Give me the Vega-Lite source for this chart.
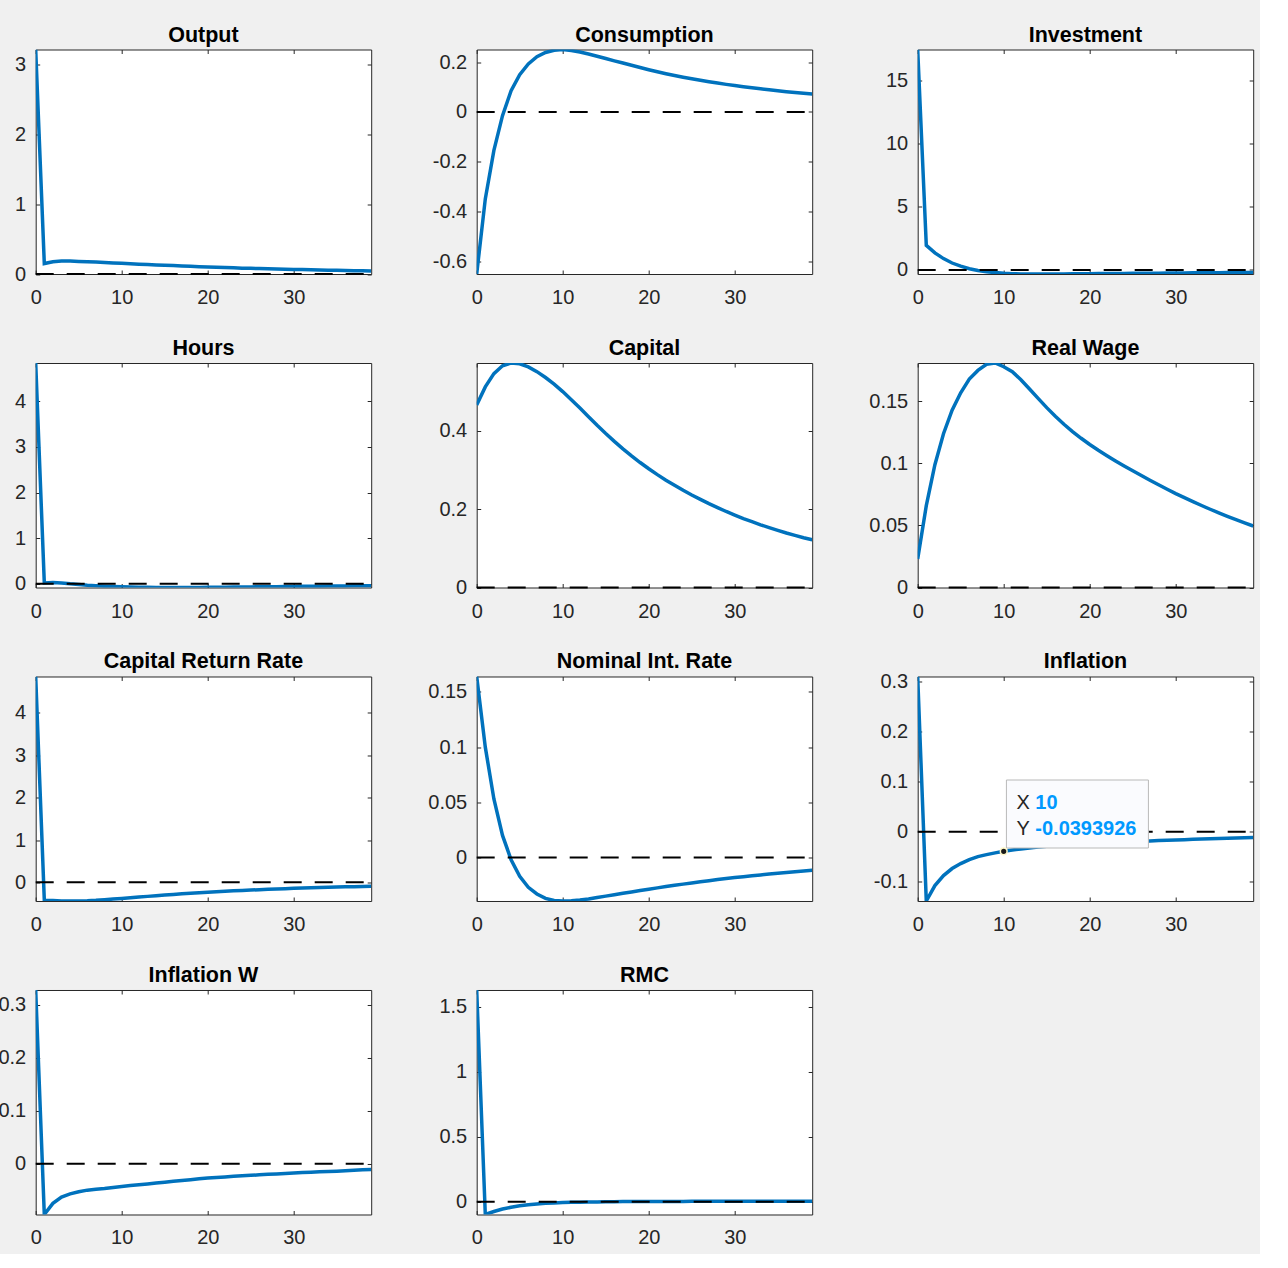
{
  "$schema": "https://vega.github.io/schema/vega-lite/v6.json",
  "background": "#f0f0f0",
  "padding": {"left": -3.3, "top": 23.5, "right": 5, "bottom": 5},
  "config": {
    "locale": {"number": {"decimal": ".", "thousands": ",", "grouping": [3], "currency": ["$", ""], "minus": "-"}},
    "font": "Liberation Sans",
    "view": {"fill": "white", "stroke": "#262626", "strokeWidth": 1},
    "axis": {"domain": false, "grid": false, "ticks": true, "tickColor": "#262626", "tickSize": -4, "tickWidth": 1, "labelFont": "Liberation Sans", "labelFontSize": 20, "labelColor": "#262626", "labelFlush": false, "labelOverlap": false, "format": ".4~g"},
    "axisBottom": {"labelPadding": 17.5},
    "axisLeft": {"labelPadding": 14},
    "title": {"font": "Liberation Sans", "fontSize": 21.5, "fontWeight": "bold", "color": "#000000", "offset": 3, "baseline": "bottom"}
  },
  "datasets": {
    "zero": [{"z": 0}],
    "output": [{"t":0,"y":3.21},{"t":1,"y":0.15},{"t":2,"y":0.175},{"t":3,"y":0.185},{"t":4,"y":0.185},{"t":5,"y":0.18},{"t":6,"y":0.175},{"t":7,"y":0.17},{"t":8,"y":0.164},{"t":9,"y":0.158},{"t":10,"y":0.152},{"t":11,"y":0.146},{"t":12,"y":0.14},{"t":13,"y":0.135},{"t":14,"y":0.13},{"t":15,"y":0.125},{"t":16,"y":0.12},{"t":17,"y":0.115},{"t":18,"y":0.11},{"t":19,"y":0.105},{"t":20,"y":0.1},{"t":21,"y":0.096},{"t":22,"y":0.092},{"t":23,"y":0.088},{"t":24,"y":0.084},{"t":25,"y":0.081},{"t":26,"y":0.078},{"t":27,"y":0.075},{"t":28,"y":0.072},{"t":29,"y":0.069},{"t":30,"y":0.066},{"t":31,"y":0.063},{"t":32,"y":0.06},{"t":33,"y":0.058},{"t":34,"y":0.055},{"t":35,"y":0.053},{"t":36,"y":0.05},{"t":37,"y":0.048},{"t":38,"y":0.046},{"t":39,"y":0.044}],
    "consumption": [{"t":0,"y":-0.652},{"t":1,"y":-0.35},{"t":2,"y":-0.155},{"t":3,"y":-0.015},{"t":4,"y":0.085},{"t":5,"y":0.15},{"t":6,"y":0.193},{"t":7,"y":0.222},{"t":8,"y":0.239},{"t":9,"y":0.248},{"t":10,"y":0.251},{"t":11,"y":0.247},{"t":12,"y":0.241},{"t":13,"y":0.233},{"t":14,"y":0.224},{"t":15,"y":0.215},{"t":16,"y":0.2055},{"t":17,"y":0.1965},{"t":18,"y":0.1875},{"t":19,"y":0.1785},{"t":20,"y":0.1697},{"t":21,"y":0.1615},{"t":22,"y":0.1538},{"t":23,"y":0.1465},{"t":24,"y":0.1396},{"t":25,"y":0.1331},{"t":26,"y":0.127},{"t":27,"y":0.1213},{"t":28,"y":0.1159},{"t":29,"y":0.1108},{"t":30,"y":0.106},{"t":31,"y":0.1014},{"t":32,"y":0.097},{"t":33,"y":0.0928},{"t":34,"y":0.0888},{"t":35,"y":0.085},{"t":36,"y":0.0814},{"t":37,"y":0.078},{"t":38,"y":0.0748},{"t":39,"y":0.0718}],
    "investment": [{"t":0,"y":17.46},{"t":1,"y":1.95},{"t":2,"y":1.35},{"t":3,"y":0.9},{"t":4,"y":0.55},{"t":5,"y":0.3},{"t":6,"y":0.1},{"t":7,"y":-0.04},{"t":8,"y":-0.14},{"t":9,"y":-0.21},{"t":10,"y":-0.26},{"t":11,"y":-0.29},{"t":12,"y":-0.31},{"t":13,"y":-0.32},{"t":14,"y":-0.32},{"t":15,"y":-0.318},{"t":16,"y":-0.315},{"t":17,"y":-0.31},{"t":18,"y":-0.305},{"t":19,"y":-0.3},{"t":20,"y":-0.295},{"t":21,"y":-0.29},{"t":22,"y":-0.285},{"t":23,"y":-0.28},{"t":24,"y":-0.275},{"t":25,"y":-0.27},{"t":26,"y":-0.265},{"t":27,"y":-0.26},{"t":28,"y":-0.254},{"t":29,"y":-0.248},{"t":30,"y":-0.242},{"t":31,"y":-0.236},{"t":32,"y":-0.23},{"t":33,"y":-0.225},{"t":34,"y":-0.22},{"t":35,"y":-0.215},{"t":36,"y":-0.21},{"t":37,"y":-0.205},{"t":38,"y":-0.2},{"t":39,"y":-0.195}],
    "hours": [{"t":0,"y":4.84},{"t":1,"y":0.02},{"t":2,"y":0.03},{"t":3,"y":0.02},{"t":4,"y":0},{"t":5,"y":-0.015},{"t":6,"y":-0.03},{"t":7,"y":-0.04},{"t":8,"y":-0.05},{"t":9,"y":-0.058},{"t":10,"y":-0.064},{"t":11,"y":-0.069},{"t":12,"y":-0.073},{"t":13,"y":-0.076},{"t":14,"y":-0.078},{"t":15,"y":-0.079},{"t":16,"y":-0.08},{"t":17,"y":-0.08},{"t":18,"y":-0.079},{"t":19,"y":-0.078},{"t":20,"y":-0.077},{"t":21,"y":-0.075},{"t":22,"y":-0.073},{"t":23,"y":-0.071},{"t":24,"y":-0.069},{"t":25,"y":-0.067},{"t":26,"y":-0.065},{"t":27,"y":-0.063},{"t":28,"y":-0.061},{"t":29,"y":-0.059},{"t":30,"y":-0.057},{"t":31,"y":-0.055},{"t":32,"y":-0.053},{"t":33,"y":-0.051},{"t":34,"y":-0.049},{"t":35,"y":-0.047},{"t":36,"y":-0.045},{"t":37,"y":-0.043},{"t":38,"y":-0.041},{"t":39,"y":-0.04}],
    "capital": [{"t":0,"y":0.466},{"t":1,"y":0.512},{"t":2,"y":0.546},{"t":3,"y":0.566},{"t":4,"y":0.573},{"t":5,"y":0.571},{"t":6,"y":0.563},{"t":7,"y":0.551},{"t":8,"y":0.536},{"t":9,"y":0.519},{"t":10,"y":0.5},{"t":11,"y":0.479},{"t":12,"y":0.458},{"t":13,"y":0.436},{"t":14,"y":0.414},{"t":15,"y":0.393},{"t":16,"y":0.373},{"t":17,"y":0.354},{"t":18,"y":0.336},{"t":19,"y":0.319},{"t":20,"y":0.303},{"t":21,"y":0.288},{"t":22,"y":0.274},{"t":23,"y":0.261},{"t":24,"y":0.248},{"t":25,"y":0.236},{"t":26,"y":0.225},{"t":27,"y":0.214},{"t":28,"y":0.204},{"t":29,"y":0.194},{"t":30,"y":0.185},{"t":31,"y":0.176},{"t":32,"y":0.168},{"t":33,"y":0.16},{"t":34,"y":0.153},{"t":35,"y":0.146},{"t":36,"y":0.139},{"t":37,"y":0.133},{"t":38,"y":0.127},{"t":39,"y":0.122}],
    "realwage": [{"t":0,"y":0.023},{"t":1,"y":0.066},{"t":2,"y":0.099},{"t":3,"y":0.124},{"t":4,"y":0.143},{"t":5,"y":0.157},{"t":6,"y":0.168},{"t":7,"y":0.175},{"t":8,"y":0.18},{"t":9,"y":0.181},{"t":10,"y":0.178},{"t":11,"y":0.174},{"t":12,"y":0.1675},{"t":13,"y":0.16},{"t":14,"y":0.1525},{"t":15,"y":0.145},{"t":16,"y":0.138},{"t":17,"y":0.1316},{"t":18,"y":0.1257},{"t":19,"y":0.1203},{"t":20,"y":0.1153},{"t":21,"y":0.1106},{"t":22,"y":0.1062},{"t":23,"y":0.102},{"t":24,"y":0.098},{"t":25,"y":0.0942},{"t":26,"y":0.0903},{"t":27,"y":0.0865},{"t":28,"y":0.0828},{"t":29,"y":0.0792},{"t":30,"y":0.0757},{"t":31,"y":0.0724},{"t":32,"y":0.0692},{"t":33,"y":0.0661},{"t":34,"y":0.0631},{"t":35,"y":0.0602},{"t":36,"y":0.0574},{"t":37,"y":0.0547},{"t":38,"y":0.0521},{"t":39,"y":0.0496}],
    "capreturn": [{"t":0,"y":4.86},{"t":1,"y":-0.42},{"t":2,"y":-0.43},{"t":3,"y":-0.44},{"t":4,"y":-0.44},{"t":5,"y":-0.44},{"t":6,"y":-0.435},{"t":7,"y":-0.425},{"t":8,"y":-0.41},{"t":9,"y":-0.395},{"t":10,"y":-0.38},{"t":11,"y":-0.363},{"t":12,"y":-0.347},{"t":13,"y":-0.331},{"t":14,"y":-0.315},{"t":15,"y":-0.3},{"t":16,"y":-0.285},{"t":17,"y":-0.271},{"t":18,"y":-0.257},{"t":19,"y":-0.244},{"t":20,"y":-0.232},{"t":21,"y":-0.221},{"t":22,"y":-0.21},{"t":23,"y":-0.2},{"t":24,"y":-0.19},{"t":25,"y":-0.181},{"t":26,"y":-0.172},{"t":27,"y":-0.164},{"t":28,"y":-0.156},{"t":29,"y":-0.148},{"t":30,"y":-0.141},{"t":31,"y":-0.134},{"t":32,"y":-0.128},{"t":33,"y":-0.122},{"t":34,"y":-0.116},{"t":35,"y":-0.111},{"t":36,"y":-0.106},{"t":37,"y":-0.101},{"t":38,"y":-0.096},{"t":39,"y":-0.092}],
    "nominal": [{"t":0,"y":0.164},{"t":1,"y":0.1},{"t":2,"y":0.053},{"t":3,"y":0.02},{"t":4,"y":-0.002},{"t":5,"y":-0.017},{"t":6,"y":-0.027},{"t":7,"y":-0.033},{"t":8,"y":-0.037},{"t":9,"y":-0.039},{"t":10,"y":-0.0394},{"t":11,"y":-0.0392},{"t":12,"y":-0.0385},{"t":13,"y":-0.0375},{"t":14,"y":-0.0362},{"t":15,"y":-0.035},{"t":16,"y":-0.0337},{"t":17,"y":-0.0324},{"t":18,"y":-0.0312},{"t":19,"y":-0.0299},{"t":20,"y":-0.0287},{"t":21,"y":-0.0275},{"t":22,"y":-0.0263},{"t":23,"y":-0.0252},{"t":24,"y":-0.0241},{"t":25,"y":-0.023},{"t":26,"y":-0.022},{"t":27,"y":-0.021},{"t":28,"y":-0.02},{"t":29,"y":-0.0191},{"t":30,"y":-0.0182},{"t":31,"y":-0.0174},{"t":32,"y":-0.0166},{"t":33,"y":-0.0158},{"t":34,"y":-0.015},{"t":35,"y":-0.0143},{"t":36,"y":-0.0136},{"t":37,"y":-0.0129},{"t":38,"y":-0.0122},{"t":39,"y":-0.0116}],
    "inflation": [{"t":0,"y":0.311},{"t":1,"y":-0.139},{"t":2,"y":-0.108},{"t":3,"y":-0.088},{"t":4,"y":-0.074},{"t":5,"y":-0.064},{"t":6,"y":-0.056},{"t":7,"y":-0.05},{"t":8,"y":-0.046},{"t":9,"y":-0.0425},{"t":10,"y":-0.0394},{"t":11,"y":-0.0368},{"t":12,"y":-0.0346},{"t":13,"y":-0.0327},{"t":14,"y":-0.031},{"t":15,"y":-0.0295},{"t":16,"y":-0.0282},{"t":17,"y":-0.027},{"t":18,"y":-0.0259},{"t":19,"y":-0.0249},{"t":20,"y":-0.024},{"t":21,"y":-0.0231},{"t":22,"y":-0.0222},{"t":23,"y":-0.0214},{"t":24,"y":-0.0206},{"t":25,"y":-0.0199},{"t":26,"y":-0.0192},{"t":27,"y":-0.0185},{"t":28,"y":-0.0178},{"t":29,"y":-0.0172},{"t":30,"y":-0.0166},{"t":31,"y":-0.016},{"t":32,"y":-0.0154},{"t":33,"y":-0.0149},{"t":34,"y":-0.0143},{"t":35,"y":-0.0138},{"t":36,"y":-0.0133},{"t":37,"y":-0.0128},{"t":38,"y":-0.0123},{"t":39,"y":-0.0118}],
    "inflation_tip": [{"t":10,"y":-0.0393926}],
    "inflationw": [{"t":0,"y":0.328},{"t":1,"y":-0.096},{"t":2,"y":-0.075},{"t":3,"y":-0.063},{"t":4,"y":-0.057},{"t":5,"y":-0.053},{"t":6,"y":-0.05},{"t":7,"y":-0.0485},{"t":8,"y":-0.047},{"t":9,"y":-0.045},{"t":10,"y":-0.043},{"t":11,"y":-0.0414},{"t":12,"y":-0.0398},{"t":13,"y":-0.0382},{"t":14,"y":-0.0366},{"t":15,"y":-0.035},{"t":16,"y":-0.0334},{"t":17,"y":-0.0318},{"t":18,"y":-0.0302},{"t":19,"y":-0.0286},{"t":20,"y":-0.027},{"t":21,"y":-0.026},{"t":22,"y":-0.025},{"t":23,"y":-0.024},{"t":24,"y":-0.023},{"t":25,"y":-0.022},{"t":26,"y":-0.0211},{"t":27,"y":-0.0202},{"t":28,"y":-0.0193},{"t":29,"y":-0.0184},{"t":30,"y":-0.0176},{"t":31,"y":-0.0169},{"t":32,"y":-0.0162},{"t":33,"y":-0.0155},{"t":34,"y":-0.0148},{"t":35,"y":-0.0141},{"t":36,"y":-0.0133},{"t":37,"y":-0.0125},{"t":38,"y":-0.0117},{"t":39,"y":-0.011}],
    "rmc": [{"t":0,"y":1.628},{"t":1,"y":-0.098},{"t":2,"y":-0.075},{"t":3,"y":-0.056},{"t":4,"y":-0.042},{"t":5,"y":-0.031},{"t":6,"y":-0.023},{"t":7,"y":-0.017},{"t":8,"y":-0.012},{"t":9,"y":-0.009},{"t":10,"y":-0.006},{"t":11,"y":-0.004},{"t":12,"y":-0.003},{"t":13,"y":-0.002},{"t":14,"y":-0.001},{"t":15,"y":0},{"t":16,"y":0.0005},{"t":17,"y":0.001},{"t":18,"y":0.0015},{"t":19,"y":0.002},{"t":20,"y":0.002},{"t":21,"y":0.0023},{"t":22,"y":0.0025},{"t":23,"y":0.0027},{"t":24,"y":0.0028},{"t":25,"y":0.003},{"t":26,"y":0.003},{"t":27,"y":0.0031},{"t":28,"y":0.0032},{"t":29,"y":0.0032},{"t":30,"y":0.0033},{"t":31,"y":0.0033},{"t":32,"y":0.0034},{"t":33,"y":0.0034},{"t":34,"y":0.0034},{"t":35,"y":0.0035},{"t":36,"y":0.0035},{"t":37,"y":0.0035},{"t":38,"y":0.0035},{"t":39,"y":0.0035}]
  },
  "columns": 3,
  "bounds": "flush",
  "spacing": {"row": 88.5, "column": 105},
  "concat": [
    {"title": "Output", "width": 335.5, "height": 224.5,
     "layer": [
      {"data": {"name": "output"}, "mark": {"type": "line", "color": "#0072BD", "strokeWidth": 3.5, "clip": true},
       "encoding": {"x": {"field": "t", "type": "quantitative", "scale": {"domain": [0, 39], "nice": false}, "axis": {"orient": "bottom", "values": [0, 10, 20, 30], "title": null}},
                    "y": {"field": "y", "type": "quantitative", "scale": {"domain": [0, 3.21], "nice": false}, "axis": {"orient": "left", "values": [0, 1, 2, 3], "title": null}}}},
      {"data": {"name": "zero"}, "mark": {"type": "rule", "color": "#000000", "strokeWidth": 2, "strokeDash": [18, 13]},
       "encoding": {"x": {"datum": 0, "type": "quantitative", "scale": {"domain": [0, 39], "nice": false}, "axis": {"orient": "top", "values": [0, 10, 20, 30], "labels": false, "title": null}}, "x2": {"datum": 39},
                    "y": {"field": "z", "type": "quantitative", "scale": {"domain": [0, 3.21], "nice": false}, "axis": {"orient": "right", "values": [0, 1, 2, 3], "labels": false, "title": null}}}}
     ],
     "resolve": {"axis": {"x": "independent", "y": "independent"}}},
    {"title": "Consumption", "width": 335.5, "height": 224.5,
     "layer": [
      {"data": {"name": "consumption"}, "mark": {"type": "line", "color": "#0072BD", "strokeWidth": 3.5, "clip": true},
       "encoding": {"x": {"field": "t", "type": "quantitative", "scale": {"domain": [0, 39], "nice": false}, "axis": {"orient": "bottom", "values": [0, 10, 20, 30], "title": null}},
                    "y": {"field": "y", "type": "quantitative", "scale": {"domain": [-0.652, 0.251], "nice": false}, "axis": {"orient": "left", "values": [-0.6, -0.4, -0.2, 0, 0.2], "title": null}}}},
      {"data": {"name": "zero"}, "mark": {"type": "rule", "color": "#000000", "strokeWidth": 2, "strokeDash": [18, 13]},
       "encoding": {"x": {"datum": 0, "type": "quantitative", "scale": {"domain": [0, 39], "nice": false}, "axis": {"orient": "top", "values": [0, 10, 20, 30], "labels": false, "title": null}}, "x2": {"datum": 39},
                    "y": {"field": "z", "type": "quantitative", "scale": {"domain": [-0.652, 0.251], "nice": false}, "axis": {"orient": "right", "values": [-0.6, -0.4, -0.2, 0, 0.2], "labels": false, "title": null}}}}
     ],
     "resolve": {"axis": {"x": "independent", "y": "independent"}}},
    {"title": "Investment", "width": 335.5, "height": 224.5,
     "layer": [
      {"data": {"name": "investment"}, "mark": {"type": "line", "color": "#0072BD", "strokeWidth": 3.5, "clip": true},
       "encoding": {"x": {"field": "t", "type": "quantitative", "scale": {"domain": [0, 39], "nice": false}, "axis": {"orient": "bottom", "values": [0, 10, 20, 30], "title": null}},
                    "y": {"field": "y", "type": "quantitative", "scale": {"domain": [-0.32, 17.46], "nice": false}, "axis": {"orient": "left", "values": [0, 5, 10, 15], "title": null}}}},
      {"data": {"name": "zero"}, "mark": {"type": "rule", "color": "#000000", "strokeWidth": 2, "strokeDash": [18, 13]},
       "encoding": {"x": {"datum": 0, "type": "quantitative", "scale": {"domain": [0, 39], "nice": false}, "axis": {"orient": "top", "values": [0, 10, 20, 30], "labels": false, "title": null}}, "x2": {"datum": 39},
                    "y": {"field": "z", "type": "quantitative", "scale": {"domain": [-0.32, 17.46], "nice": false}, "axis": {"orient": "right", "values": [0, 5, 10, 15], "labels": false, "title": null}}}}
     ],
     "resolve": {"axis": {"x": "independent", "y": "independent"}}},
    {"title": "Hours", "width": 335.5, "height": 224.5,
     "layer": [
      {"data": {"name": "hours"}, "mark": {"type": "line", "color": "#0072BD", "strokeWidth": 3.5, "clip": true},
       "encoding": {"x": {"field": "t", "type": "quantitative", "scale": {"domain": [0, 39], "nice": false}, "axis": {"orient": "bottom", "values": [0, 10, 20, 30], "title": null}},
                    "y": {"field": "y", "type": "quantitative", "scale": {"domain": [-0.08, 4.84], "nice": false}, "axis": {"orient": "left", "values": [0, 1, 2, 3, 4], "title": null}}}},
      {"data": {"name": "zero"}, "mark": {"type": "rule", "color": "#000000", "strokeWidth": 2, "strokeDash": [18, 13]},
       "encoding": {"x": {"datum": 0, "type": "quantitative", "scale": {"domain": [0, 39], "nice": false}, "axis": {"orient": "top", "values": [0, 10, 20, 30], "labels": false, "title": null}}, "x2": {"datum": 39},
                    "y": {"field": "z", "type": "quantitative", "scale": {"domain": [-0.08, 4.84], "nice": false}, "axis": {"orient": "right", "values": [0, 1, 2, 3, 4], "labels": false, "title": null}}}}
     ],
     "resolve": {"axis": {"x": "independent", "y": "independent"}}},
    {"title": "Capital", "width": 335.5, "height": 224.5,
     "layer": [
      {"data": {"name": "capital"}, "mark": {"type": "line", "color": "#0072BD", "strokeWidth": 3.5, "clip": true},
       "encoding": {"x": {"field": "t", "type": "quantitative", "scale": {"domain": [0, 39], "nice": false}, "axis": {"orient": "bottom", "values": [0, 10, 20, 30], "title": null}},
                    "y": {"field": "y", "type": "quantitative", "scale": {"domain": [0, 0.573], "nice": false}, "axis": {"orient": "left", "values": [0, 0.2, 0.4], "title": null}}}},
      {"data": {"name": "zero"}, "mark": {"type": "rule", "color": "#000000", "strokeWidth": 2, "strokeDash": [18, 13]},
       "encoding": {"x": {"datum": 0, "type": "quantitative", "scale": {"domain": [0, 39], "nice": false}, "axis": {"orient": "top", "values": [0, 10, 20, 30], "labels": false, "title": null}}, "x2": {"datum": 39},
                    "y": {"field": "z", "type": "quantitative", "scale": {"domain": [0, 0.573], "nice": false}, "axis": {"orient": "right", "values": [0, 0.2, 0.4], "labels": false, "title": null}}}}
     ],
     "resolve": {"axis": {"x": "independent", "y": "independent"}}},
    {"title": "Real Wage", "width": 335.5, "height": 224.5,
     "layer": [
      {"data": {"name": "realwage"}, "mark": {"type": "line", "color": "#0072BD", "strokeWidth": 3.5, "clip": true},
       "encoding": {"x": {"field": "t", "type": "quantitative", "scale": {"domain": [0, 39], "nice": false}, "axis": {"orient": "bottom", "values": [0, 10, 20, 30], "title": null}},
                    "y": {"field": "y", "type": "quantitative", "scale": {"domain": [0, 0.181], "nice": false}, "axis": {"orient": "left", "values": [0, 0.05, 0.1, 0.15], "title": null}}}},
      {"data": {"name": "zero"}, "mark": {"type": "rule", "color": "#000000", "strokeWidth": 2, "strokeDash": [18, 13]},
       "encoding": {"x": {"datum": 0, "type": "quantitative", "scale": {"domain": [0, 39], "nice": false}, "axis": {"orient": "top", "values": [0, 10, 20, 30], "labels": false, "title": null}}, "x2": {"datum": 39},
                    "y": {"field": "z", "type": "quantitative", "scale": {"domain": [0, 0.181], "nice": false}, "axis": {"orient": "right", "values": [0, 0.05, 0.1, 0.15], "labels": false, "title": null}}}}
     ],
     "resolve": {"axis": {"x": "independent", "y": "independent"}}},
    {"title": "Capital Return Rate", "width": 335.5, "height": 224.5,
     "layer": [
      {"data": {"name": "capreturn"}, "mark": {"type": "line", "color": "#0072BD", "strokeWidth": 3.5, "clip": true},
       "encoding": {"x": {"field": "t", "type": "quantitative", "scale": {"domain": [0, 39], "nice": false}, "axis": {"orient": "bottom", "values": [0, 10, 20, 30], "title": null}},
                    "y": {"field": "y", "type": "quantitative", "scale": {"domain": [-0.44, 4.86], "nice": false}, "axis": {"orient": "left", "values": [0, 1, 2, 3, 4], "title": null}}}},
      {"data": {"name": "zero"}, "mark": {"type": "rule", "color": "#000000", "strokeWidth": 2, "strokeDash": [18, 13]},
       "encoding": {"x": {"datum": 0, "type": "quantitative", "scale": {"domain": [0, 39], "nice": false}, "axis": {"orient": "top", "values": [0, 10, 20, 30], "labels": false, "title": null}}, "x2": {"datum": 39},
                    "y": {"field": "z", "type": "quantitative", "scale": {"domain": [-0.44, 4.86], "nice": false}, "axis": {"orient": "right", "values": [0, 1, 2, 3, 4], "labels": false, "title": null}}}}
     ],
     "resolve": {"axis": {"x": "independent", "y": "independent"}}},
    {"title": "Nominal Int. Rate", "width": 335.5, "height": 224.5,
     "layer": [
      {"data": {"name": "nominal"}, "mark": {"type": "line", "color": "#0072BD", "strokeWidth": 3.5, "clip": true},
       "encoding": {"x": {"field": "t", "type": "quantitative", "scale": {"domain": [0, 39], "nice": false}, "axis": {"orient": "bottom", "values": [0, 10, 20, 30], "title": null}},
                    "y": {"field": "y", "type": "quantitative", "scale": {"domain": [-0.0394, 0.164], "nice": false}, "axis": {"orient": "left", "values": [0, 0.05, 0.1, 0.15], "title": null}}}},
      {"data": {"name": "zero"}, "mark": {"type": "rule", "color": "#000000", "strokeWidth": 2, "strokeDash": [18, 13]},
       "encoding": {"x": {"datum": 0, "type": "quantitative", "scale": {"domain": [0, 39], "nice": false}, "axis": {"orient": "top", "values": [0, 10, 20, 30], "labels": false, "title": null}}, "x2": {"datum": 39},
                    "y": {"field": "z", "type": "quantitative", "scale": {"domain": [-0.0394, 0.164], "nice": false}, "axis": {"orient": "right", "values": [0, 0.05, 0.1, 0.15], "labels": false, "title": null}}}}
     ],
     "resolve": {"axis": {"x": "independent", "y": "independent"}}},
    {"title": {"text": "Inflation", "offset": -1}, "width": 335.5, "height": 224.5,
     "layer": [
      {"data": {"name": "inflation"}, "mark": {"type": "line", "color": "#0072BD", "strokeWidth": 3.5, "clip": true},
       "encoding": {"x": {"field": "t", "type": "quantitative", "scale": {"domain": [0, 39], "nice": false}, "axis": {"orient": "bottom", "values": [0, 10, 20, 30], "title": null}},
                    "y": {"field": "y", "type": "quantitative", "scale": {"domain": [-0.139, 0.311], "nice": false}, "axis": {"orient": "left", "values": [-0.1, 0, 0.1, 0.2, 0.3], "title": null}}}},
      {"data": {"name": "zero"}, "mark": {"type": "rule", "color": "#000000", "strokeWidth": 2, "strokeDash": [18, 13]},
       "encoding": {"x": {"datum": 0, "type": "quantitative", "scale": {"domain": [0, 39], "nice": false}, "axis": {"orient": "top", "values": [0, 10, 20, 30], "labels": false, "title": null}}, "x2": {"datum": 39},
                    "y": {"field": "z", "type": "quantitative", "scale": {"domain": [-0.139, 0.311], "nice": false}, "axis": {"orient": "right", "values": [-0.1, 0, 0.1, 0.2, 0.3], "labels": false, "title": null}}}},
      {"data": {"name": "inflation_tip"}, "mark": {"type": "point", "shape": "M0.054,-1.426H2.894V-0.066H0.054Z", "size": 10000, "filled": true, "fill": "#fafbfe", "stroke": "#b9b9b9", "strokeWidth": 1, "opacity": 1},
       "encoding": {"x": {"field": "t", "type": "quantitative", "axis": null}, "y": {"field": "y", "type": "quantitative", "axis": null}}},
      {"data": {"name": "inflation_tip"}, "mark": {"type": "point", "shape": "circle", "size": 45, "filled": true, "fill": "#1a1a1a", "stroke": "#fff8c8", "strokeWidth": 1.5, "opacity": 1},
       "encoding": {"x": {"field": "t", "type": "quantitative", "axis": null}, "y": {"field": "y", "type": "quantitative", "axis": null}}},
      {"data": {"name": "inflation_tip"}, "mark": {"type": "text", "text": "X", "align": "left", "baseline": "middle", "dx": 12.7, "dy": -48.1, "fontSize": 20, "color": "#262626"},
       "encoding": {"x": {"field": "t", "type": "quantitative", "axis": null}, "y": {"field": "y", "type": "quantitative", "axis": null}}},
      {"data": {"name": "inflation_tip"}, "mark": {"type": "text", "align": "left", "baseline": "middle", "dx": 31.6, "dy": -48.1, "fontSize": 20, "fontWeight": "bold", "color": "#0099ff"},
       "encoding": {"x": {"field": "t", "type": "quantitative", "axis": null}, "y": {"field": "y", "type": "quantitative", "axis": null}, "text": {"field": "t", "type": "quantitative", "format": "d"}}},
      {"data": {"name": "inflation_tip"}, "mark": {"type": "text", "text": "Y", "align": "left", "baseline": "middle", "dx": 12.7, "dy": -22.6, "fontSize": 20, "color": "#262626"},
       "encoding": {"x": {"field": "t", "type": "quantitative", "axis": null}, "y": {"field": "y", "type": "quantitative", "axis": null}}},
      {"data": {"name": "inflation_tip"}, "mark": {"type": "text", "align": "left", "baseline": "middle", "dx": 31.6, "dy": -22.6, "fontSize": 20, "fontWeight": "bold", "color": "#0099ff"},
       "encoding": {"x": {"field": "t", "type": "quantitative", "axis": null}, "y": {"field": "y", "type": "quantitative", "axis": null}, "text": {"field": "y", "type": "quantitative", "format": ".7f"}}}
     ],
     "resolve": {"axis": {"x": "independent", "y": "independent"}}},
    {"title": "Inflation W", "width": 335.5, "height": 224.5,
     "layer": [
      {"data": {"name": "inflationw"}, "mark": {"type": "line", "color": "#0072BD", "strokeWidth": 3.5, "clip": true},
       "encoding": {"x": {"field": "t", "type": "quantitative", "scale": {"domain": [0, 39], "nice": false}, "axis": {"orient": "bottom", "values": [0, 10, 20, 30], "title": null}},
                    "y": {"field": "y", "type": "quantitative", "scale": {"domain": [-0.096, 0.328], "nice": false}, "axis": {"orient": "left", "values": [0, 0.1, 0.2, 0.3], "title": null}}}},
      {"data": {"name": "zero"}, "mark": {"type": "rule", "color": "#000000", "strokeWidth": 2, "strokeDash": [18, 13]},
       "encoding": {"x": {"datum": 0, "type": "quantitative", "scale": {"domain": [0, 39], "nice": false}, "axis": {"orient": "top", "values": [0, 10, 20, 30], "labels": false, "title": null}}, "x2": {"datum": 39},
                    "y": {"field": "z", "type": "quantitative", "scale": {"domain": [-0.096, 0.328], "nice": false}, "axis": {"orient": "right", "values": [0, 0.1, 0.2, 0.3], "labels": false, "title": null}}}}
     ],
     "resolve": {"axis": {"x": "independent", "y": "independent"}}},
    {"title": "RMC", "width": 335.5, "height": 224.5,
     "layer": [
      {"data": {"name": "rmc"}, "mark": {"type": "line", "color": "#0072BD", "strokeWidth": 3.5, "clip": true},
       "encoding": {"x": {"field": "t", "type": "quantitative", "scale": {"domain": [0, 39], "nice": false}, "axis": {"orient": "bottom", "values": [0, 10, 20, 30], "title": null}},
                    "y": {"field": "y", "type": "quantitative", "scale": {"domain": [-0.098, 1.628], "nice": false}, "axis": {"orient": "left", "values": [0, 0.5, 1, 1.5], "title": null}}}},
      {"data": {"name": "zero"}, "mark": {"type": "rule", "color": "#000000", "strokeWidth": 2, "strokeDash": [18, 13]},
       "encoding": {"x": {"datum": 0, "type": "quantitative", "scale": {"domain": [0, 39], "nice": false}, "axis": {"orient": "top", "values": [0, 10, 20, 30], "labels": false, "title": null}}, "x2": {"datum": 39},
                    "y": {"field": "z", "type": "quantitative", "scale": {"domain": [-0.098, 1.628], "nice": false}, "axis": {"orient": "right", "values": [0, 0.5, 1, 1.5], "labels": false, "title": null}}}}
     ],
     "resolve": {"axis": {"x": "independent", "y": "independent"}}}
  ]
}
